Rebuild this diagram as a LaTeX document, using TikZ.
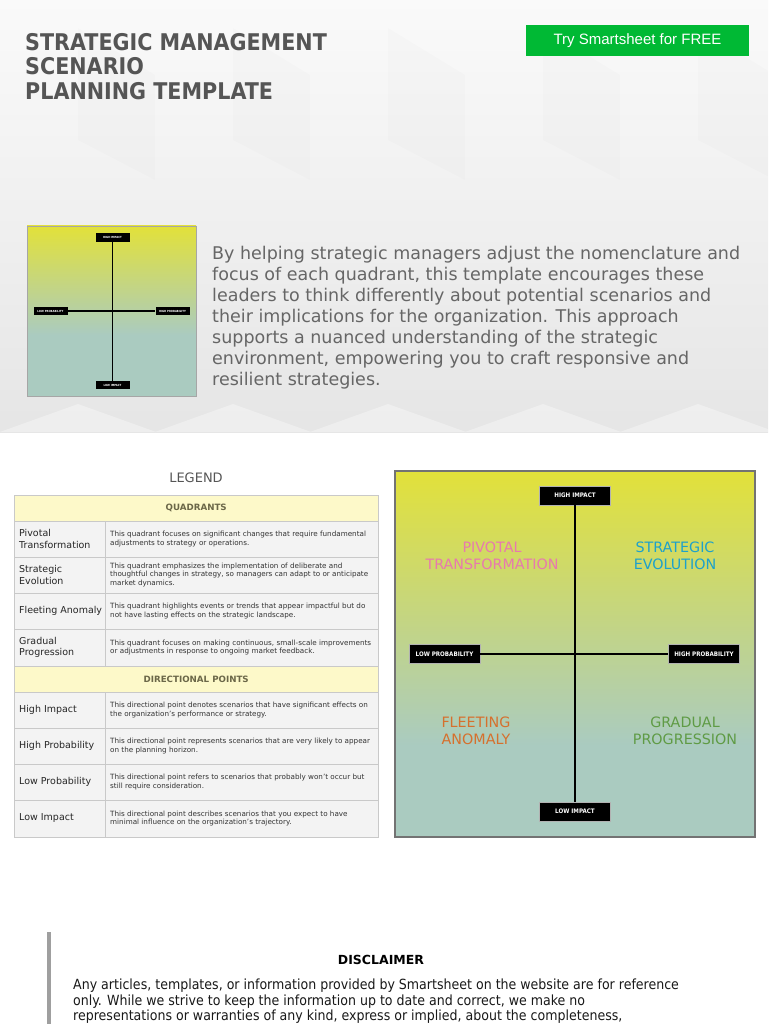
\documentclass[tikz,border=0pt]{standalone}
\usepackage{fontspec}
\setmainfont{DejaVu Sans}
\newfontfamily\condfont[BoldFont={DejaVu Sans Condensed Bold}]{DejaVu Sans Condensed}
\newfontfamily\btnfont{Liberation Sans}
\definecolor{titlegray}{HTML}{555555}
\definecolor{bodygray}{HTML}{666666}
\definecolor{btngreen}{HTML}{00B934}
\definecolor{mapyellow}{HTML}{E2E13A}
\definecolor{mapmid}{HTML}{C8D88A}
\definecolor{mapteal}{HTML}{AACBC0}
\definecolor{hdryellow}{HTML}{FDF9C9}
\definecolor{hdrtext}{HTML}{6B6748}
\definecolor{cellgray}{HTML}{F3F3F3}
\definecolor{rulegray}{HTML}{C9C9C9}
\definecolor{pinkq}{HTML}{E879AE}
\definecolor{blueq}{HTML}{1DA1CB}
\definecolor{orangeq}{HTML}{D6702D}
\definecolor{greenq}{HTML}{5F9B45}
\begin{document}
\begin{tikzpicture}[
  x=1pt, y=-1pt,
  dirbox/.style={fill=black, draw=gray!60, line width=0.6pt, text=white, inner sep=0pt,
    minimum width=71, minimum height=19, font=\condfont\bfseries\fontsize{6.2}{7}\selectfont},
  thumbbox/.style={fill=black, text=white, inner sep=0pt,
    minimum width=34, minimum height=8, font=\condfont\bfseries\fontsize{2.8}{3}\selectfont},
  axis/.style={line width=2.5pt},
  thumbaxis/.style={line width=1.2pt},
  quad/.style={align=center, font=\fontsize{14.3}{17}\selectfont},
  secthdr/.style={draw=rulegray, fill=hdryellow, text=hdrtext, anchor=north west,
    minimum width=364, minimum height=26, font=\bfseries\fontsize{8.7}{10}\selectfont},
  cellbox/.style={draw=rulegray, fill=cellgray},
  keytext/.style={anchor=west, inner sep=0pt, align=left, text=black!85,
    font=\fontsize{9.5}{11.5}\selectfont},
  desctext/.style={anchor=west, inner sep=0pt, align=left, text=black!80,
    font=\fontsize{7.2}{8.8}\selectfont}
]
\useasboundingbox (0,0) rectangle (768,1024);
\clip (0,0) rectangle (768,1024);
\fill[white] (0,0) rectangle (768,1024);
\shade[top color=white!98!black, bottom color=white!90!black] (0,0) rectangle (768,432);
\foreach \i in {0,...,5} {
  \fill[white, opacity=0.35] (\i*155,432) -- (\i*155+78,404) -- (\i*155+156,432) -- cycle;
  \fill[black, opacity=0.012] (\i*155+78,28) -- (\i*155+155,75) -- (\i*155+155,180) -- (\i*155+78,140) -- cycle;
}
\node[anchor=north west, inner sep=0pt, align=left, text=titlegray,
  font=\condfont\bfseries\fontsize{23}{24.5}\selectfont] (title) at (25,33)
  {STRATEGIC MANAGEMENT\\SCENARIO\\PLANNING TEMPLATE};
\node[fill=btngreen, text=white, minimum width=223, minimum height=31, inner sep=0pt,
  font=\btnfont\fontsize{15}{18}\selectfont] (try) at (637.5,40.5) {Try Smartsheet for FREE};

\shade[top color=mapyellow, middle color=mapmid, bottom color=mapteal] (27,226) rectangle (196,335);
\fill[mapteal] (27,335) rectangle (196,396);
\draw[gray!70] (27,226) rectangle (196,396);
\node[thumbbox] (thi) at (112.5,237.5) {HIGH IMPACT};
\node[thumbbox] (tlp) at (50.5,311) {LOW PROBABILITY};
\node[thumbbox] (thp) at (172.5,311) {HIGH PROBABILITY};
\node[thumbbox] (tlo) at (112.5,385) {LOW IMPACT};
\draw[thumbaxis] (thi) -- (tlo);
\draw[thumbaxis] (tlp) -- (thp);

\node[anchor=north west, inner sep=0pt, align=left, text=bodygray,
  font=\fontsize{17.5}{21}\selectfont] (intro) at (212,246)
  {By helping strategic managers adjust the nomenclature and\\
   focus of each quadrant, this template encourages these\\
   leaders to think differently about potential scenarios and\\
   their implications for the organization. This approach\\
   supports a nuanced understanding of the strategic\\
   environment, empowering you to craft responsive and\\
   resilient strategies.};

\node[text=titlegray, font=\fontsize{13}{15}\selectfont] (legend) at (196,478) {LEGEND};
\node[secthdr] (quadhdr) at (14,495) {QUADRANTS};
\node[secthdr] (pointhdr) at (14,666) {DIRECTIONAL POINTS};
\foreach \y/\h/\name/\desc in {
  521/36/{Pivotal\\Transformation}/{This quadrant focuses on significant changes that require fundamental\\adjustments to strategy or operations.},
  557/36/{Strategic\\Evolution}/{This quadrant emphasizes the implementation of deliberate and\\thoughtful changes in strategy, so managers can adapt to or anticipate\\market dynamics.},
  593/36/{Fleeting Anomaly}/{This quadrant highlights events or trends that appear impactful but do\\not have lasting effects on the strategic landscape.},
  629/37/{Gradual\\Progression}/{This quadrant focuses on making continuous, small-scale improvements\\or adjustments in response to ongoing market feedback.},
  692/36/{High Impact}/{This directional point denotes scenarios that have significant effects on\\the organization's performance or strategy.},
  728/36/{High Probability}/{This directional point represents scenarios that are very likely to appear\\on the planning horizon.},
  764/36/{Low Probability}/{This directional point refers to scenarios that probably won't occur but\\still require consideration.},
  800/37/{Low Impact}/{This directional point describes scenarios that you expect to have\\minimal influence on the organization's trajectory.}} {
  \draw[cellbox] (14,\y) rectangle (105,\y+\h);
  \draw[cellbox] (105,\y) rectangle (378,\y+\h);
  \node[keytext] (key\y) at (19,\y+\h/2) {\name};
  \node[desctext] (desc\y) at (110,\y+\h/2) {\desc};
}

\shade[top color=mapyellow, middle color=mapmid, bottom color=mapteal] (395,471) rectangle (755,745);
\fill[mapteal] (395,745) rectangle (755,837);
\draw[black!55, line width=2pt] (395,471) rectangle (755,837);
\node[dirbox] (hi) at (575,495.5) {HIGH IMPACT};
\node[dirbox] (lo) at (575,811.5) {LOW IMPACT};
\node[dirbox] (lp) at (444.5,654) {LOW PROBABILITY};
\node[dirbox] (hp) at (704,654) {HIGH PROBABILITY};
\draw[axis] (hi) -- (lo);
\draw[axis] (lp) -- (hp);
\node[quad, text=pinkq] (pivot) at (492,556) {PIVOTAL\\TRANSFORMATION};
\node[quad, text=blueq] (evol) at (675,556) {STRATEGIC\\EVOLUTION};
\node[quad, text=orangeq] (fleet) at (476,731) {FLEETING\\ANOMALY};
\node[quad, text=greenq] (grad) at (685,731) {GRADUAL\\PROGRESSION};

\fill[gray!75] (47,932) rectangle (51,1024);
\node[font=\bfseries\fontsize{12.5}{14}\selectfont] (disc) at (381,960) {DISCLAIMER};
\node[anchor=north west, inner sep=0pt, align=left, text=black!90,
  font=\condfont\fontsize{14}{15.2}\selectfont] (disctext) at (73,979)
  {Any articles, templates, or information provided by Smartsheet on the website are for reference\\
   only. While we strive to keep the information up to date and correct, we make no\\
   representations or warranties of any kind, express or implied, about the completeness,\\
   accuracy, reliability, suitability, or availability with respect to the website or the information,};
\end{tikzpicture}
\end{document}
